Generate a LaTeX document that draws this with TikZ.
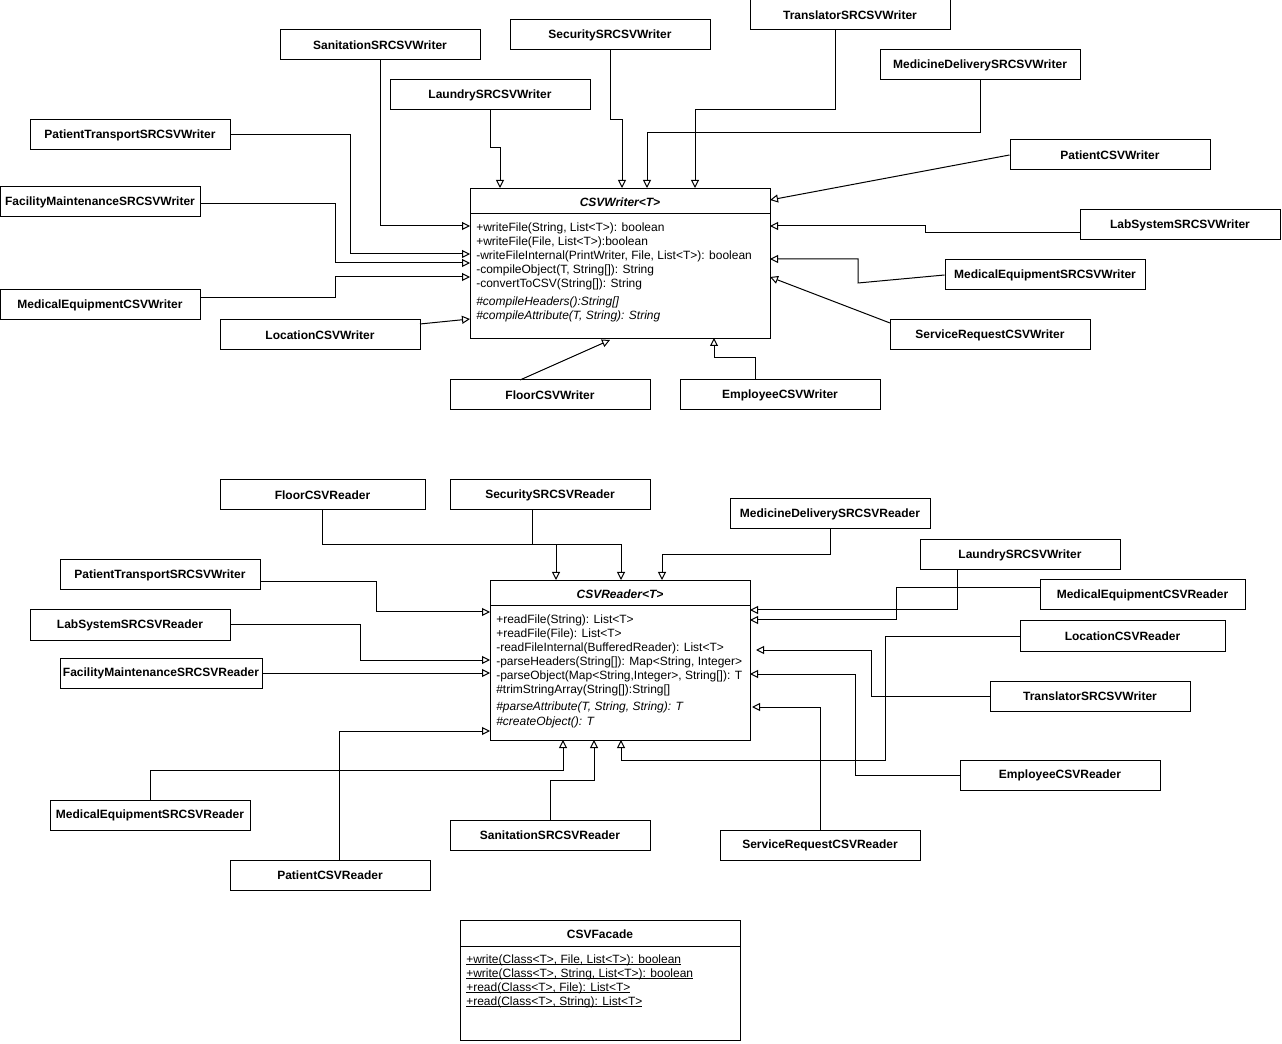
\documentclass[tikz,border=0pt]{standalone}
\usepackage{fontspec}
\setmainfont{Liberation Sans}
\usetikzlibrary{arrows.meta}
\newcommand\myul[1]{\setbox0\hbox{#1}\rlap{\rule[-1.3pt]{\wd0}{0.5pt}}\box0}
\begin{document}
\begin{tikzpicture}[x=0.75pt,y=-0.75pt,
  box/.style={draw,line width=0.75pt,minimum width=150pt,minimum height=22.5pt,inner sep=0pt,font=\fontsize{9}{11}\selectfont\bfseries},
  cls/.style={draw,line width=0.75pt,anchor=north west,inner sep=0pt},
  mt/.style={anchor=west,inner sep=0pt,font=\fontsize{9}{11}\selectfont},
  ih/.style={font=\fontsize{9}{11}\selectfont\bfseries\itshape,inner sep=0pt},
  ar/.style={line width=0.75pt,-{Triangle[open,length=6pt,width=6pt]}}]
\useasboundingbox (0,0) rectangle (1282,1044);
% ---- writer section
\node[box] (wsan) at (380,45) {SanitationSRCSVWriter};
\node[box] (wsec) at (610,35) {SecuritySRCSVWriter};
\node[box] (wtra) at (850,15) {TranslatorSRCSVWriter};
\node[box] (wmed) at (980,65) {MedicineDeliverySRCSVWriter};
\node[box] (wlau) at (490,95) {LaundrySRCSVWriter};
\node[box] (wpt) at (130,135) {PatientTransportSRCSVWriter};
\node[box] (wpat) at (1110,155) {PatientCSVWriter};
\node[box] (wfac) at (100,202) {FacilityMaintenanceSRCSVWriter};
\node[box] (wlab) at (1180,225) {LabSystemSRCSVWriter};
\node[box] (wmeq) at (1045,275) {MedicalEquipmentSRCSVWriter};
\node[box] (wmec) at (100,305) {MedicalEquipmentCSVWriter};
\node[box] (wloc) at (320,335) {LocationCSVWriter};
\node[box] (wsr) at (990,335) {ServiceRequestCSVWriter};
\node[box] (wflo) at (550,395) {FloorCSVWriter};
\node[box] (wemp) at (780,395) {EmployeeCSVWriter};
\node[cls,minimum width=225pt,minimum height=112.5pt] (cw) at (470,188) {};
\draw[line width=0.75pt] (470,214) -- (770,214);
\node[ih] (cwt) at (620,202) {CSVWriter<T>};
\node[mt] at (476,228) {+writeFile(String, List<T>): boolean};
\node[mt] at (476,242) {+writeFile(File, List<T>):boolean};
\node[mt] at (476,256) {-writeFileInternal(PrintWriter, File, List<T>): boolean};
\node[mt] at (476,270) {-compileObject(T, String[]): String};
\node[mt] at (476,284) {-convertToCSV(String[]): String};
\node[mt,font=\fontsize{9}{11}\selectfont\itshape] at (476,302) {\#compileHeaders():String[]};
\node[mt,font=\fontsize{9}{11}\selectfont\itshape] at (476,316) {\#compileAttribute(T, String): String};
\coordinate (c1) at (470,226);
\coordinate (c2) at (470,254);
\coordinate (c3) at (470,263);
\coordinate (c4) at (470,277);
\coordinate (c5) at (470,319);
\draw[ar] (wsan.south) |- (c1);
\draw[ar] (wsec.south) -- (610,120) -- (622,120) -- (622,188);
\draw[ar] (835,30) -- (835,110) -- (695,110) -- (695,188);
\draw[ar] (wmed.south) -- (980,133) -- (647,133) -- (647,188);
\draw[ar] (wlau.south) -- (490,148) -- (500,148) -- (500,188);
\draw[ar] (wpt.east) -- (350,135) -- (350,254) -- (c2);
\draw[ar] (200,204) -- (335,204) -- (335,263) -- (c3);
\draw[ar] (200,298) -- (335,298) -- (335,277) -- (c4);
\draw[ar] (420,324) -- (c5);
\draw[ar] (wpat.west) -- (770,200);
\draw[ar] (1080,233) -- (925,233) -- (925,226) -- (770,226);
\draw[ar] (wmeq.west) -- (858,283) -- (858,259) -- (770,259);
\draw[ar] (890,323) -- (770,277);
\draw[ar] (520,380) -- (610,340);
\draw[ar] (755,380) -- (755,358) -- (714,358) -- (714,338);
% ---- reader section
\node[box,minimum width=153.75pt] (rflo) at (322.5,495) {FloorCSVReader};
\node[box] (rsec) at (550,495) {SecuritySRCSVReader};
\node[box] (rmed) at (830,514) {MedicineDeliverySRCSVReader};
\node[box] (rlau) at (1020,555) {LaundrySRCSVWriter};
\node[box] (rpt) at (160,575) {PatientTransportSRCSVWriter};
\node[box,minimum width=153.75pt] (rmec) at (1142.5,595) {MedicalEquipmentCSVReader};
\node[box] (rlab) at (130,625) {LabSystemSRCSVReader};
\node[box,minimum width=153.75pt] (rloc) at (1122.5,636) {LocationCSVReader};
\node[box,minimum width=151.5pt] (rfac) at (161,673) {FacilityMaintenanceSRCSVReader};
\node[box] (rtra) at (1090,696) {TranslatorSRCSVWriter};
\node[box] (remp) at (1060,775) {EmployeeCSVReader};
\node[box] (rmeq) at (150,815) {MedicalEquipmentSRCSVReader};
\node[box] (rsan) at (550,835) {SanitationSRCSVReader};
\node[box] (rsr) at (820,845) {ServiceRequestCSVReader};
\node[box] (rpat) at (330,875) {PatientCSVReader};
\node[cls,minimum width=195pt,minimum height=120pt] (cr) at (490,580) {};
\draw[line width=0.75pt] (490,606) -- (750,606);
\node[ih] (crt) at (620,594) {CSVReader<T>};
\node[mt] at (496,620) {+readFile(String): List<T>};
\node[mt] at (496,634) {+readFile(File): List<T>};
\node[mt] at (496,648) {-readFileInternal(BufferedReader): List<T>};
\node[mt] at (496,662) {-parseHeaders(String[]): Map<String, Integer>};
\node[mt] at (496,676) {-parseObject(Map<String,Integer>, String[]): T};
\node[mt] at (496,690) {\#trimStringArray(String[]):String[]};
\node[mt,font=\fontsize{9}{11}\selectfont\itshape] at (496,707) {\#parseAttribute(T, String, String): T};
\node[mt,font=\fontsize{9}{11}\selectfont\itshape] at (496,722) {\#createObject(): T};
\draw[ar] (rflo.south) -- (322.5,545) -- (621,545) -- (621,580);
\draw[ar] (532,510) -- (532,545) -- (556,545) -- (556,580);
\draw[ar] (rmed.south) -- (830,555) -- (662,555) -- (662,580);
\draw[ar] (260,582) -- (376,582) -- (376,612) -- (490,612);
\draw[ar] (rlab.east) -- (360,625) -- (360,660) -- (490,660);
\draw[ar] (rfac.east) -- (490,673);
\draw[ar] (rpat.north -| 339,0) -- (339,731) -- (490,731);
\draw[ar] (rmeq.north) -- (150,770) -- (563,770) -- (563,740);
\draw[ar] (rsan.north) -- (550,780) -- (594,780) -- (594,740);
\draw[ar] (957,570) -- (957,610) -- (750,610);
\draw[ar] (1040,588) -- (896,588) -- (896,620) -- (750,620);
\draw[ar] (rloc.west) -- (885,636) -- (885,760) -- (621,760) -- (621,740);
\draw[ar] (rtra.west) -- (871,696) -- (871,650) -- (756,650);
\draw[ar] (remp.west) -- (855,775) -- (855,674) -- (750,674);
\draw[ar] (rsr.north) -- (820,707) -- (752,707);
% ---- facade
\node[cls,minimum width=210pt,minimum height=90pt] (cf) at (460,920) {};
\draw[line width=0.75pt] (460,946) -- (740,946);
\node[box,draw=none,minimum width=0pt,minimum height=0pt] (cft) at (600,934) {CSVFacade};
\node[mt] at (466,960) {\myul{+write(Class<T>, File, List<T>): boolean}};
\node[mt] at (466,974) {\myul{+write(Class<T>, String, List<T>): boolean}};
\node[mt] at (466,988) {\myul{+read(Class<T>, File): List<T>}};
\node[mt] at (466,1002) {\myul{+read(Class<T>, String): List<T>}};
\end{tikzpicture}
\end{document}
